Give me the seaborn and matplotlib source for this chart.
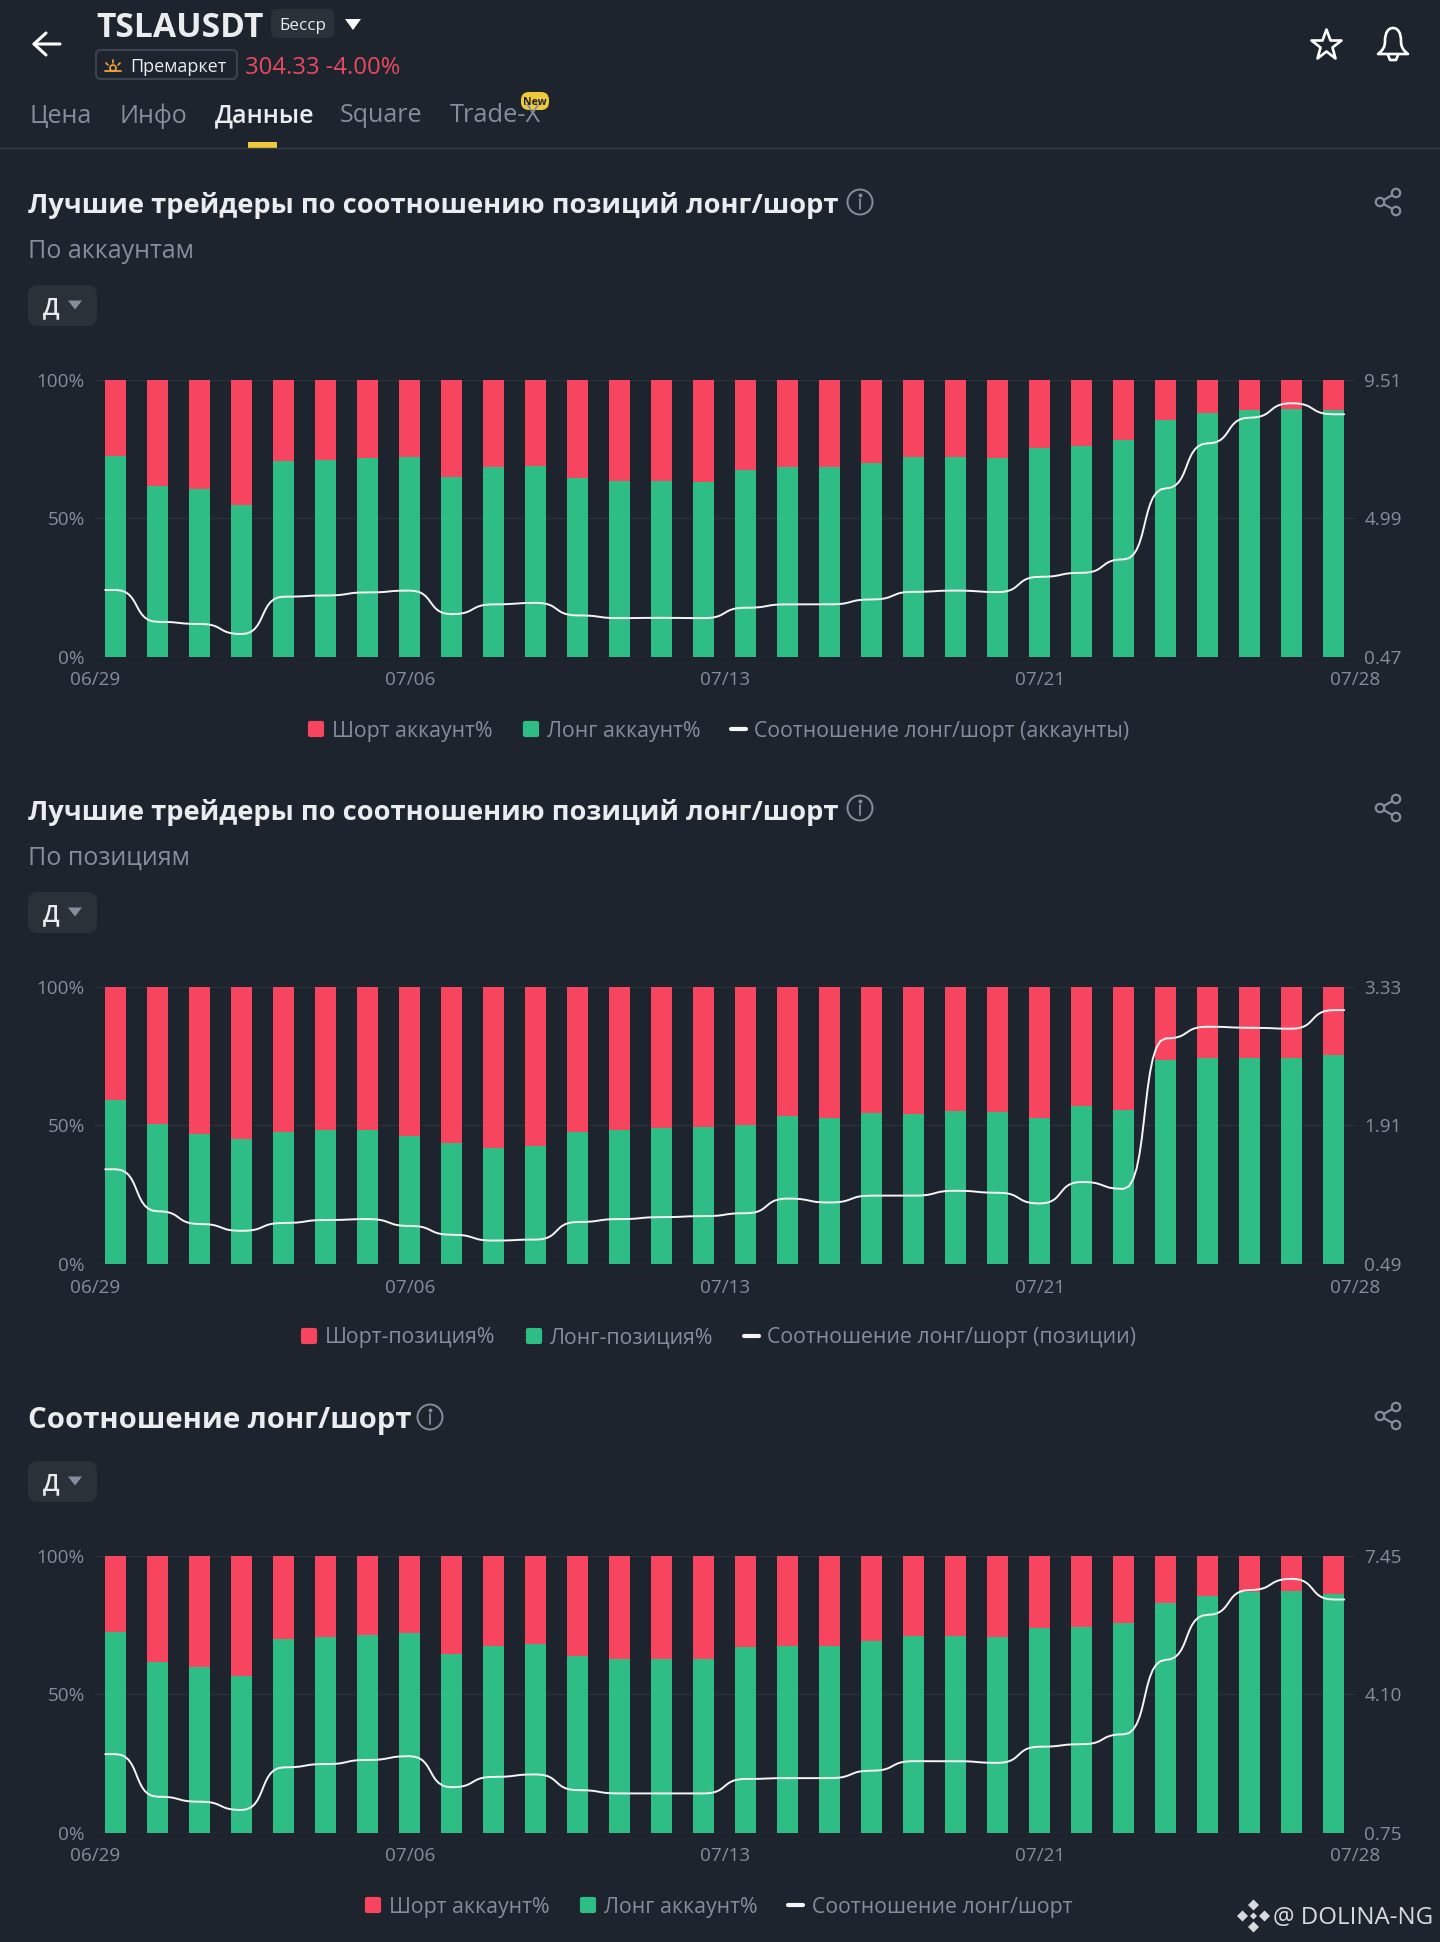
import numpy as np
import pandas as pd
import seaborn as sns
import matplotlib.pyplot as plt
from matplotlib.lines import Line2D
from matplotlib.markers import MarkerStyle
from matplotlib.patches import Circle, FancyBboxPatch, PathPatch, Polygon
from matplotlib.path import Path

# values
days = list(range(30))
tick_pos = [-0.5, 7, 14.5, 22, 29.5]
tick_dates = ['06/29', '07/06', '07/13', '07/21', '07/28']
pct_ticks = [0, 50, 100]
pct_labels = ['0%', '50%', '100%']

acc_long = [72.5, 61.8, 60.7, 54.9, 70.8, 71.2, 71.9, 72.3, 65.1, 68.5, 68.9, 64.5, 63.4, 63.5, 63.3,
            67.5, 68.6, 68.4, 70.1, 72.0, 72.2, 71.8, 75.4, 76.1, 78.4, 85.5, 88.2, 89.0, 89.6, 89.2]
acc_ratio = [2.65, 1.61, 1.54, 1.21, 2.43, 2.47, 2.57, 2.63, 1.86, 2.18, 2.23, 1.82, 1.73, 1.74, 1.73,
             2.07, 2.18, 2.18, 2.34, 2.59, 2.63, 2.58, 3.08, 3.21, 3.65, 5.97, 7.44, 8.28, 8.75, 8.39]
acc_ticks = [0.47, 4.99, 9.51]

pos_long = [59.3, 50.5, 47.0, 45.2, 47.6, 48.3, 48.4, 46.3, 43.8, 41.9, 42.5, 47.7, 48.4, 49.2, 49.3,
            50.0, 53.5, 52.8, 54.3, 54.2, 55.2, 54.8, 52.6, 56.9, 55.5, 73.6, 74.4, 74.3, 74.3, 75.4]
pos_ratio = [1.46, 1.03, 0.90, 0.83, 0.91, 0.94, 0.95, 0.88, 0.79, 0.73, 0.74, 0.92, 0.95, 0.97, 0.98,
             1.01, 1.16, 1.12, 1.19, 1.19, 1.24, 1.22, 1.11, 1.33, 1.26, 2.80, 2.92, 2.91, 2.90, 3.09]
pos_ticks = [0.49, 1.91, 3.33]

all_long = [72.4, 61.6, 59.9, 56.4, 69.9, 70.6, 71.2, 72.2, 64.6, 67.5, 68.2, 63.8, 62.7, 62.8, 62.7,
            67.0, 67.4, 67.4, 69.2, 71.0, 71.0, 70.8, 73.8, 74.2, 75.6, 82.9, 85.6, 86.9, 87.1, 86.3]
all_ratio = [2.65, 1.62, 1.50, 1.30, 2.33, 2.41, 2.51, 2.60, 1.85, 2.10, 2.16, 1.78, 1.70, 1.70, 1.70,
             2.05, 2.07, 2.07, 2.25, 2.48, 2.48, 2.44, 2.83, 2.89, 3.13, 4.93, 6.02, 6.62, 6.89, 6.39]
all_ticks = [0.75, 4.10, 7.45]

legend1 = ['Шорт аккаунт%', 'Лонг аккаунт%', 'Соотношение лонг/шорт (аккаунты)']
legend2 = ['Шорт-позиция%', 'Лонг-позиция%', 'Соотношение лонг/шорт (позиции)']
legend3 = ['Шорт аккаунт%', 'Лонг аккаунт%', 'Соотношение лонг/шорт']

BG = '#1E242E'
RED = '#F8455F'
GREEN = '#2EBD85'
GREY = '#848E9C'
WHITE = '#EAECEF'
GRID = '#2B3139'
PANEL = '#2B3139'
W, H = 1440, 1942

sns.set_theme(style='dark', rc={'figure.facecolor': BG, 'axes.facecolor': 'none', 'savefig.facecolor': BG})
plt.rcParams['font.family'] = ['Open Sans', 'DejaVu Sans']

fig = plt.figure(figsize=(W / 100, H / 100), dpi=100)
fig.patch.set_facecolor(BG)


def smooth(y, k=0.6, n=14):
    # sampled bezier with flat tangents at each day, the app draws its line this way
    xs, ys = [-0.25], [y[0]]
    for i in range(len(y) - 1):
        t = np.linspace(0, 1, n)
        xs += list(3 * (1 - t) ** 2 * t * (i + k) + 3 * (1 - t) * t ** 2 * (i + 1 - k)
                   + (1 - t) ** 3 * i + t ** 3 * (i + 1))
        ys += list((1 - t) ** 3 * y[i] + 3 * (1 - t) ** 2 * t * y[i]
                   + 3 * (1 - t) * t ** 2 * y[i + 1] + t ** 3 * y[i + 1])
    xs.append(len(y) - 0.75)
    ys.append(y[-1])
    return xs, ys


def chart(long_pct, ratio, ratio_ticks, labels, top, bottom, legend_y):
    ax = fig.add_axes([94.7 / W, 1 - bottom / H, 1260 / W, (bottom - top) / H])
    df = pd.DataFrame({'day': days, 'long': long_pct})
    df['short'] = 100 - df['long']
    for v in pct_ticks:
        ax.axhline(v, color=GRID, lw=1, zorder=0)
    sns.barplot(data=df, x='day', y='long', color=GREEN, saturation=1, width=0.5, linewidth=0, ax=ax, zorder=2)
    sns.barplot(data=df, x='day', y='short', bottom=df['long'].values, color=RED, saturation=1, width=0.5,
                linewidth=0, ax=ax, zorder=2)
    ax.set_xlim(-0.5, 29.5)
    ax.set_ylim(0, 100)
    ax.set_xticks(tick_pos, tick_dates)
    ax.set_yticks(pct_ticks, pct_labels)
    ax.set_xlabel('')
    ax.set_ylabel('')
    ax.tick_params(axis='x', length=0, pad=10.5, labelsize=13.6, labelcolor=GREY)
    ax.tick_params(axis='y', length=0, pad=7, labelsize=13.6, labelcolor=GREY)

    ax2 = ax.twinx()
    xs, ys = smooth(ratio)
    sns.lineplot(x=xs, y=ys, color='#F5F5F5', lw=1.4, sort=False, estimator=None, ax=ax2, zorder=5)
    ax2.set_ylim(ratio_ticks[0], ratio_ticks[-1])
    ax2.set_yticks(ratio_ticks, ['%.2f' % v for v in ratio_ticks])
    ax2.set_ylabel('')
    ax2.grid(False)
    ax2.tick_params(axis='y', length=0, pad=7, labelsize=13.6, labelcolor=GREY)
    sns.despine(ax=ax, left=True, bottom=True)
    sns.despine(ax=ax2, left=True, bottom=True, right=True)

    sq = MarkerStyle('s', joinstyle='round')
    handles = [Line2D([], [], ls='none', marker=sq, ms=8, mew=3, color=RED),
               Line2D([], [], ls='none', marker=sq, ms=8, mew=3, color=GREEN),
               Line2D([], [], color='#F5F5F5', lw=3, solid_capstyle='round')]
    fig.legend(handles, labels, ncol=3, loc='center', bbox_to_anchor=(719 / W, 1 - legend_y / H),
               frameon=False, fontsize=15.3, labelcolor=GREY, numpoints=1, handlelength=0.7,
               handletextpad=0.4, columnspacing=1.45, borderpad=0, borderaxespad=0)


chart(acc_long, acc_ratio, acc_ticks, legend1, 380, 656.7, 731)
chart(pos_long, pos_ratio, pos_ticks, legend2, 986.7, 1264, 1338)
chart(all_long, all_ratio, all_ticks, legend3, 1555.7, 1832.7, 1907)

# the app chrome around the charts, in pixel coordinates
ui = fig.add_axes([0, 0, 1, 1], zorder=10)
ui.set_xlim(0, W)
ui.set_ylim(H, 0)
ui.axis('off')
ui.patch.set_alpha(0)


def label(x, y, s, px, color=WHITE, weight='normal', ha='left'):
    ui.text(x, y, s, fontsize=px * 0.72, color=color, fontweight=weight, ha=ha, va='center_baseline')


def box(x0, y0, x1, y1, fc=PANEL, ec='none', r=8):
    ui.add_patch(FancyBboxPatch((x0 + r, y0 + r), x1 - x0 - 2 * r, y1 - y0 - 2 * r,
                                boxstyle='round,pad=%d' % r, fc=fc, ec=ec, lw=1.5))


def info(x, y):
    ui.add_patch(Circle((x, y), 12.5, fc='none', ec=GREY, lw=1.4))
    ui.plot([x, x], [y - 3, y + 7], color=GREY, lw=1.3)
    ui.plot([x], [y - 7], marker='o', ms=1.8, color=GREY)


def share(y):
    pts = [(1396, y - 9), (1380, y), (1396, y + 9)]
    ui.plot([p[0] for p in pts], [p[1] for p in pts], color=GREY, lw=1.6, zorder=1)
    for p in pts:
        ui.add_patch(Circle(p, 4.2, fc=BG, ec=GREY, lw=1.6, zorder=2))


def day_btn(y0, y1):
    box(28, y0, 97, y1, r=10)
    label(51, (y0 + y1) / 2, 'Д', 23, ha='center', weight='semibold')
    my = (y0 + y1) / 2 - 1
    ui.add_patch(Polygon([(68, my - 4), (82, my - 4), (75, my + 5)], fc=GREY, ec='none'))


# header
ui.plot([60, 34, 46], [44, 44, 33], color='white', lw=2.2, solid_capstyle='round', solid_joinstyle='round')
ui.plot([34, 46], [44, 55], color='white', lw=2.2, solid_capstyle='round')
label(96, 24, 'TSLAUSDT', 33.6, weight='bold')
box(271, 9, 334, 38, r=6)
label(302.5, 24, 'Бесср', 17, ha='center')
ui.add_patch(Polygon([(345, 19), (361, 19), (353, 30)], fc='white', ec='none'))
box(96, 50, 237, 79, fc=BG, ec='#3C434E', r=5)
ui.plot([105, 121], [71, 71], color='#F0A33C', lw=1.3)
ui.add_patch(Circle((113, 68), 3, fc='none', ec='#F0A33C', lw=1.2))
for a, b, c, d in [(113, 60, 113, 63), (106, 63, 108, 65), (120, 63, 118, 65)]:
    ui.plot([a, c], [b, d], color='#F0A33C', lw=1.2)
label(130, 65, 'Премаркет', 18)
label(245, 65, '304.33 -4.00%', 23.7, color='#E84A5F')

label(29, 113, 'Цена', 25, color=GREY)
label(120, 113, 'Инфо', 25, color=GREY)
label(215, 113, 'Данные', 25, weight='semibold')
label(340, 113, 'Square', 25, color=GREY)
label(450, 113, 'Trade-X', 25.5, color=GREY)
box(521, 92, 549, 110, fc='#F0C93A', r=8)
label(535, 101, 'New', 10.5, color='#1E2329', ha='center', weight='bold')
ui.add_patch(Polygon([(248, 142), (277, 142), (277, 148), (248, 148)], fc='#F0C93A', ec='none'))
ui.plot([0, W], [148.5, 148.5], color='#3A4049', lw=1)

# star and bell
ui.plot([1326], [45], marker=MarkerStyle('*', joinstyle='round'), ms=23, mfc='none', mec='white', mew=1.9)
bell = Path([(1378, 54), (1383, 50), (1385, 47), (1385, 41), (1385, 33), (1388, 28), (1393, 28),
             (1398, 28), (1401, 33), (1401, 41), (1401, 47), (1403, 50), (1408, 54), (1378, 54)],
            [Path.MOVETO, Path.CURVE4, Path.CURVE4, Path.CURVE4, Path.CURVE4, Path.CURVE4, Path.CURVE4,
             Path.CURVE4, Path.CURVE4, Path.CURVE4, Path.CURVE4, Path.CURVE4, Path.CURVE4, Path.CLOSEPOLY])
ui.add_patch(PathPatch(bell, fc='none', ec='white', lw=1.9, joinstyle='round'))
ui.plot([1388, 1390, 1396, 1398], [55, 60, 60, 55], color='white', lw=1.9, solid_joinstyle='round')

# section headers
title = 'Лучшие трейдеры по соотношению позиций лонг/шорт'
label(28, 202.5, title, 27.3, weight='bold')
label(28, 249, 'По аккаунтам', 25, color=GREY)
info(860, 202)
share(202)
day_btn(285, 326)

label(28, 809, title, 27.3, weight='bold')
label(28, 855, 'По позициям', 25, color=GREY)
info(860, 808)
share(808)
day_btn(892, 933)

label(28, 1417, 'Соотношение лонг/шорт', 29.2, weight='bold')
info(430, 1417)
share(1416)
day_btn(1461, 1502)

# watermark
for dx, dy in [(0, -11), (0, 11), (-11, 0), (11, 0), (0, 0)]:
    cx, cy = 1253.5 + dx, 1916 + dy
    s = 3.5 if dx == 0 and dy == 0 else 5.5
    ui.add_patch(Polygon([(cx, cy - s), (cx + s, cy), (cx, cy + s), (cx - s, cy)], fc='#D8DADE', ec='none'))
label(1273, 1915, '@ DOLINA-NG', 24, color='#D8DADE')

fig.savefig('out.png', dpi=100, facecolor=BG)
